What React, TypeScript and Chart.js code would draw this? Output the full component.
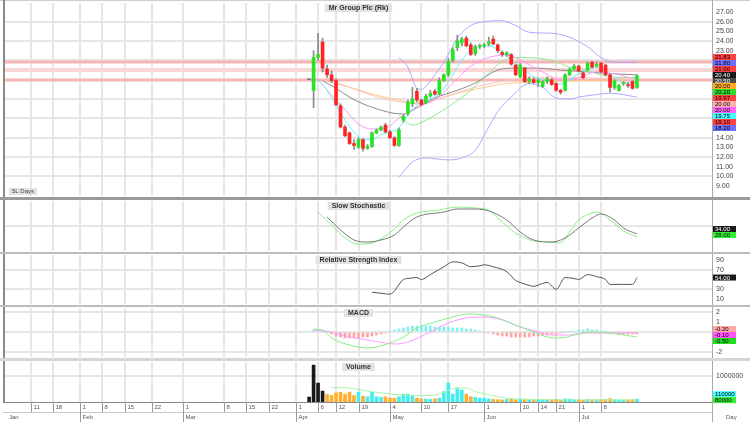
import { useEffect, useRef } from 'react';
import { Chart, registerables } from 'chart.js';

Chart.register(...registerables);

const FONT = '"Liberation Sans", "DejaVu Sans", Arial, sans-serif';
const GRID = '#e6e6e6';
const UP = '#22e622';
const DOWN = '#ff2424';

// ---------- time axis (trading-day slots) ----------
const X_MIN = 0.3;
const X_MAX = 157.7;
const FIRST_SLOT = 68;
const tickSlots = [6, 11, 17, 22, 27, 33, 40, 49, 54, 59, 65, 70, 74, 79, 86, 93, 99, 107, 115, 119, 123, 128, 133];
const tickLabels = ['11', '18', '1', '8', '15', '22', '1', '8', '15', '22', '1', '6', '12', '19', '4', '10', '17', '1', '10', '14', '21', '1', '8'];
const monthTickIdx = [2, 6, 10, 14, 17, 21];
const monthLabels = ['Feb', 'Mar', 'Apr', 'May', 'Jun', 'Jul'];
const firstMonthLabel = 'Jan';

// ---------- price panel ----------
const priceTicks = [9, 10, 11, 12, 13, 14, 15, 16, 17, 18, 19, 20, 21, 22, 23, 24, 25, 26, 27];
const opens = [20.0, 18.9, 22.3, 23.9, 21.1, 20.5, 19.9, 17.3, 15.1, 14.5, 13.4, 13.0, 13.8, 12.9, 13.1, 14.5, 14.8, 15.3, 14.6, 14.0,
  13.2, 15.8, 16.5, 17.5, 18.8, 17.9, 17.6, 18.3, 18.8, 18.5, 19.9, 20.5, 22.0, 23.3, 23.8, 24.3, 23.6, 22.7, 23.4, 23.5,
  23.7, 24.2, 23.6, 22.8, 22.6, 22.6, 21.5, 20.3, 21.2, 19.8, 20.0, 19.7, 19.3, 19.8, 20.0, 19.6, 18.9, 18.9, 20.5, 21.1,
  21.4, 20.7, 21.0, 21.8, 21.4, 21.7, 21.5, 20.5, 19.2, 18.9, 19.6, 19.5, 19.8, 19.2];
const highs = [20.0, 23.0, 24.8, 24.3, 21.5, 20.9, 20.1, 17.5, 15.3, 14.6, 13.8, 14.0, 13.9, 13.3, 14.6, 14.9, 15.2, 15.5, 14.8, 14.1,
  15.0, 16.4, 17.9, 19.2, 19.1, 18.0, 18.5, 18.9, 19.0, 20.2, 20.6, 22.2, 23.3, 24.6, 24.4, 24.5, 23.8, 23.6, 23.7, 23.8,
  24.4, 24.5, 23.7, 23.0, 22.9, 22.7, 21.6, 21.7, 21.3, 20.3, 20.2, 20.1, 19.9, 20.3, 20.1, 19.7, 19.0, 20.6, 21.2, 21.6,
  21.5, 20.8, 21.8, 21.9, 21.8, 21.8, 21.6, 20.6, 20.0, 19.5, 19.8, 19.7, 19.9, 20.5];
const lows = [20.0, 17.1, 22.0, 20.8, 20.2, 19.7, 17.3, 15.0, 14.1, 13.3, 12.8, 12.9, 12.6, 12.8, 13.0, 14.4, 14.7, 14.5, 13.9, 13.1,
  13.1, 15.6, 16.3, 17.2, 17.7, 17.3, 17.5, 18.2, 18.4, 18.4, 19.8, 20.3, 21.8, 23.0, 23.5, 23.4, 22.5, 22.5, 23.2, 23.3,
  23.5, 23.6, 22.8, 22.4, 22.4, 21.5, 20.4, 20.2, 19.7, 19.6, 19.6, 19.3, 19.2, 19.6, 19.4, 18.8, 18.5, 18.8, 20.4, 21.0,
  20.8, 20.1, 20.9, 21.2, 21.3, 20.7, 20.4, 18.7, 19.0, 18.8, 19.4, 19.2, 19.0, 19.1];
const closes = [20.0, 22.3, 22.6, 21.2, 20.5, 19.9, 17.4, 15.1, 14.2, 13.4, 13.2, 13.8, 12.9, 13.1, 14.5, 14.8, 15.1, 14.6, 14.0, 13.2,
  14.8, 16.2, 17.7, 18.0, 17.9, 17.4, 18.3, 18.6, 18.5, 19.9, 20.5, 21.9, 23.1, 24.0, 24.2, 23.5, 22.6, 23.4, 23.5, 23.6,
  23.9, 23.7, 23.0, 22.6, 22.8, 21.6, 20.5, 21.5, 19.8, 20.1, 19.7, 19.9, 19.8, 20.1, 19.5, 18.9, 18.7, 20.5, 21.1, 21.4,
  20.9, 20.2, 21.7, 21.3, 21.6, 20.8, 20.5, 19.2, 19.9, 19.4, 19.7, 19.4, 19.1, 20.4];
const levelLines = [21.83, 21.0, 19.97];
// [trading day, value]
const bbUpper = [[20, 22.3], [22, 21.3], [24, 19.1], [25, 19.0], [26, 19.3], [28, 20.5], [30, 21.8], [31, 22.6], [33, 24.3], [36, 25.6], [39, 26.0], [43, 26.1], [46, 25.6], [49, 24.9], [54, 24.8], [58, 24.4], [62, 23.4], [65, 22.3], [68, 21.8], [73, 21.8]];
const bbLower = [[20, 9.9], [23, 11.5], [26, 11.9], [31, 11.7], [34, 11.9], [37, 12.7], [40, 15.1], [42, 16.7], [45, 18.2], [49, 19.6], [52, 19.2], [55, 18.1], [58, 18.0], [60, 18.2], [63, 18.4], [67, 18.6], [73, 18.2]];
const greenMA = [[20, 16.3], [23, 15.3], [26, 15.8], [31, 17.2], [36, 18.9], [40, 20.7], [43, 21.9], [47, 22.3], [54, 22.0], [58, 21.3], [61, 21.0], [65, 20.5], [67, 20.3], [73, 20.2]];
const grayMA = [[3, 19.9], [6, 19.1], [9, 18.2], [12, 17.5], [15, 17.0], [18, 16.6], [21, 16.45], [24, 17.1], [28, 18.1], [33, 18.9], [37, 19.65], [42, 21.0], [46, 21.2], [50, 21.2], [56, 21.0], [62, 20.8], [68, 20.6], [73, 20.5]];
const orangeMA = [[3, 20.0], [6, 19.6], [10, 19.1], [15, 18.4], [20, 17.9], [24, 17.5], [28, 17.9], [33, 18.6], [38, 19.1], [43, 19.55], [50, 19.75], [60, 19.9], [73, 20.0]];
const salmonMA = [[3, 20.0], [6, 19.7], [12, 18.7], [18, 17.9], [24, 17.6], [30, 18.2], [36, 19.1], [42, 19.75], [50, 20.2], [60, 20.2], [73, 20.0]];
const magentaMA = [[2, 20.0], [5, 18.4], [8, 16.9], [11, 15.4], [14, 14.9], [17, 15.0], [20, 16.0], [24, 17.2], [28, 17.9], [32, 19.65], [36, 21.4], [40, 22.3], [44, 22.55], [48, 21.8], [52, 20.8], [56, 20.0], [60, 20.2], [64, 20.8], [68, 20.6], [73, 20.0]];
const cyanMA = [[2, 20.0], [4, 18.9], [6, 17.4], [8, 15.8], [10, 14.6], [12, 13.8], [14, 13.8], [16, 14.3], [18, 14.6], [20, 15.0], [22, 16.35], [24, 17.4], [26, 17.9], [28, 18.2], [30, 19.1], [32, 20.5], [34, 22.0], [36, 23.1], [38, 23.5], [40, 23.5], [42, 23.1], [44, 22.45], [46, 21.7], [48, 21.0], [50, 20.3], [52, 20.0], [54, 19.75], [56, 19.55], [58, 20.0], [60, 20.6], [62, 21.0], [64, 21.3], [66, 20.8], [68, 20.2], [70, 19.65], [73, 19.75]];

// ---------- slow stochastic ----------
const stochK = [[2, 78], [5, 52], [8, 26], [11, 14], [14, 16], [17, 30], [19, 44], [21, 62], [24, 76], [29, 82], [33, 88], [37, 86], [40, 82], [42, 66], [46, 36], [50, 20], [53, 18], [56, 16], [58, 38], [60, 62], [63, 76], [64, 78], [67, 62], [70, 40], [73, 28]];
const stochD = [[4, 68], [7, 42], [10, 22], [13, 18], [16, 22], [19, 32], [21, 48], [24, 68], [30, 78], [33, 84], [37, 84], [40, 80], [44, 62], [47, 38], [50, 22], [54, 18], [57, 26], [60, 46], [63, 66], [65, 74], [68, 62], [70, 46], [73, 34]];

// ---------- RSI ----------
const rsiTicks = [90, 70, 30, 10];
const rsi = [[14, 24], [16, 22], [18, 20], [21, 50], [22, 52], [24, 54], [25, 50], [27, 60], [30, 76], [32, 86], [34, 84], [36, 76], [38, 78], [39, 80], [41, 76], [44, 66], [46, 48], [47, 44], [49, 38], [50, 36], [52, 42], [53, 44], [55, 30], [57, 54], [59, 52], [60, 50], [62, 60], [64, 56], [66, 50], [67, 40], [70, 40], [72, 40], [73, 54]];

// ---------- MACD ----------
const macdTicks = [2, 1, 0, -1, -2];
const macdLine = [[1, 0.3], [3, 0.2], [5, -0.6], [9, -1.3], [13, -1.6], [15, -1.5], [18, -1.1], [21, -0.5], [24, 0.4], [28, 1.0], [32, 1.5], [35, 1.8], [39, 1.7], [42, 1.4], [46, 0.7], [50, 0.0], [53, -0.5], [56, -0.6], [59, -0.3], [63, 0.0], [67, -0.1], [70, -0.3], [73, -0.5]];
const signalLine = [[1, 0.2], [5, 0.0], [9, -0.5], [13, -0.8], [17, -1.1], [19, -1.2], [22, -1.0], [27, 0.0], [31, 0.9], [35, 1.4], [39, 1.5], [43, 1.2], [47, 0.5], [51, 0.0], [54, -0.3], [58, -0.3], [61, -0.1], [65, -0.1], [69, -0.1], [73, -0.1]];
const macdHist = [0.1, 0.2, 0.2, 0.1, 0,
  -0.2, -0.4, -0.5, -0.6, -0.6, -0.6, -0.6, -0.5, -0.5, -0.4, -0.3, -0.2, -0.1,
  0.1, 0.2, 0.3, 0.4, 0.5, 0.6, 0.6, 0.6, 0.6, 0.6, 0.5, 0.5, 0.5, 0.5, 0.4, 0.4, 0.4, 0.3, 0.3, 0.2, 0.1,
  -0.1, -0.1, -0.2, -0.3, -0.4, -0.4, -0.5, -0.5, -0.5, -0.5, -0.5, -0.4, -0.4, -0.3, -0.3, -0.2, -0.2, -0.1,
  0.0, 0.1, 0.1,
  0.2, 0.2, 0.3, 0.2, 0.2, 0.1, 0.1,
  -0.1, -0.1, -0.2, -0.2, -0.2, -0.2, -0.2];

// ---------- volume ----------
const volTicks = [1000000];
const volumes = [190000, 1420000, 730000, 420000, 300000, 250000, 350000, 380000, 300000, 380000,
  250000, 380000, 220000, 200000, 380000, 200000, 180000, 200000, 150000, 150000,
  200000, 300000, 300000, 250000, 150000, 120000, 120000, 100000, 120000, 150000,
  400000, 730000, 300000, 540000, 460000, 300000, 200000, 180000, 150000, 150000,
  120000, 100000, 90000, 80000, 100000, 110000, 90000, 120000, 100000, 80000,
  70000, 90000, 80000, 70000, 90000, 100000, 80000, 120000, 110000, 90000,
  80000, 70000, 100000, 90000, 80000, 90000, 100000, 130000, 90000, 80000,
  70000, 80000, 90000, 110000];
const volMA = [[5, 550000], [8, 550000], [12, 450000], [16, 350000], [20, 280000], [25, 250000], [29, 300000], [31, 450000], [33, 540000], [35, 540000], [37, 400000], [40, 280000], [44, 150000], [50, 100000], [60, 80000], [73, 80000]];

// ---------- helpers ----------
const slot = (k: number) => FIRST_SLOT + k;
const pts = (pairs: number[][]) => pairs.map(([k, v]) => ({ x: slot(k), y: v }));
const lastOf = (pairs: number[][]) => pairs[pairs.length - 1][1];
const lastK = closes.length - 1;

const line = (pairs: number[][], color: string, order: number, width = 1) => ({
  type: 'line',
  data: pts(pairs),
  borderColor: color,
  borderWidth: width,
  pointRadius: 0,
  fill: false,
  cubicInterpolationMode: 'monotone',
  order,
});

const xAxis = (h = 0) => ({
  type: 'linear',
  min: X_MIN,
  max: X_MAX,
  offset: false,
  afterBuildTicks: (s: any) => { s.ticks = tickSlots.map((v) => ({ value: v })); },
  ticks: { display: false },
  grid: { color: GRID, lineWidth: 2, drawTicks: false, offset: false },
  border: { display: false },
  afterFit: (s: any) => { s.height = h; },
});

const yAxis = (min: number, max: number, ticks: number[], gridVals: number[], fmt: (v: number) => string) => ({
  type: 'linear',
  position: 'right',
  min,
  max,
  afterBuildTicks: (s: any) => { s.ticks = ticks.map((v) => ({ value: v })); },
  ticks: { font: { size: 7, family: FONT }, color: '#444', padding: 4, autoSkip: false, callback: (v: any) => fmt(Number(v)) },
  grid: {
    color: (c: any) => (c.tick && gridVals.includes(c.tick.value) ? GRID : 'rgba(0,0,0,0)'),
    lineWidth: 2,
    drawTicks: false,
  },
  border: { display: false },
  afterFit: (s: any) => { s.width = 38; s.paddingTop = 0; s.paddingBottom = 0; },
});

const baseOptions = (padding: any, scales: any, plugins: any[]) => ({
  responsive: false,
  animation: false,
  events: [],
  layout: { padding, autoPadding: false },
  plugins: { legend: { display: false }, tooltip: { enabled: false } },
  scales,
  _plugins: plugins,
});

const titlePlugin = (text: string) => ({
  id: 'panelTitle',
  afterDraw(chart: any) {
    const { ctx, chartArea } = chart;
    ctx.save();
    ctx.font = `bold 7px ${FONT}`;
    const w = ctx.measureText(text).width + 8;
    const cx = (chartArea.left + chartArea.right) / 2;
    ctx.fillStyle = '#e2e2e2';
    ctx.fillRect(cx - w / 2, chartArea.top + 1, w, 8);
    ctx.fillStyle = '#333';
    ctx.textAlign = 'center';
    ctx.textBaseline = 'middle';
    ctx.fillText(text, cx, chartArea.top + 5.5);
    ctx.restore();
  },
});

type SideItem = { value: number; color: string; text?: string; h?: number };
const sideLabels = (items: SideItem[], centered: boolean, fmt: (v: number) => string) => ({
  id: 'sideLabels',
  afterDraw(chart: any) {
    const { ctx, chartArea, scales } = chart;
    let prevBottom = -Infinity;
    ctx.save();
    ctx.font = `6px ${FONT}`;
    ctx.textBaseline = 'middle';
    for (const it of items) {
      const h = it.h ?? 6;
      const py = scales.y.getPixelForValue(it.value);
      let top = centered ? py - h / 2 : py - h - 2;
      if (top < prevBottom) top = prevBottom;
      ctx.fillStyle = it.color;
      ctx.fillRect(chartArea.right + 1, top, 23, h);
      ctx.fillStyle = it.text ?? '#000';
      ctx.fillText(fmt(it.value), chartArea.right + 3, top + h / 2 + 0.5);
      prevBottom = top + h;
    }
    ctx.restore();
  },
});

const cornerNote = (text: string) => ({
  id: 'cornerNote',
  afterDraw(chart: any) {
    const { ctx, chartArea } = chart;
    ctx.save();
    ctx.font = `6px ${FONT}`;
    const w = ctx.measureText(text).width + 6;
    ctx.fillStyle = '#e2e2e2';
    ctx.fillRect(chartArea.left + 4, chartArea.bottom - 8, w, 7);
    ctx.fillStyle = '#444';
    ctx.textBaseline = 'middle';
    ctx.fillText(text, chartArea.left + 7, chartArea.bottom - 4.3);
    ctx.restore();
  },
});

const dateAxisPlugin = {
  id: 'dateAxis',
  afterDraw(chart: any) {
    const { ctx, chartArea, scales } = chart;
    const xs = scales.x;
    const y0 = chartArea.bottom;
    ctx.save();
    ctx.lineWidth = 1;
    ctx.strokeStyle = '#888';
    ctx.beginPath(); ctx.moveTo(3, y0 + 0.5); ctx.lineTo(chartArea.right, y0 + 0.5); ctx.stroke();
    ctx.strokeStyle = '#c8c8c8';
    ctx.beginPath(); ctx.moveTo(3, y0 + 10.5); ctx.lineTo(chartArea.right, y0 + 10.5); ctx.stroke();
    ctx.font = `6px ${FONT}`;
    ctx.fillStyle = '#555';
    ctx.textBaseline = 'middle';
    tickSlots.forEach((s, i) => {
      const x = Math.round(xs.getPixelForValue(s)) + 0.5;
      ctx.strokeStyle = '#999';
      ctx.beginPath(); ctx.moveTo(x, y0); ctx.lineTo(x, y0 + 10); ctx.stroke();
      ctx.fillText(tickLabels[i], x + 2, y0 + 5.5);
      const m = monthTickIdx.indexOf(i);
      if (m >= 0) {
        ctx.beginPath(); ctx.moveTo(x, y0 + 10); ctx.lineTo(x, y0 + 20); ctx.stroke();
        ctx.fillText(monthLabels[m], x + 2, y0 + 15.5);
      }
    });
    ctx.fillText(firstMonthLabel, 9, y0 + 15.5);
    ctx.fillText('Day', 726, y0 + 15.5);
    ctx.restore();
  },
};

const mk = (type: string, datasets: any[], options: any) => {
  const plugins = options._plugins;
  delete options._plugins;
  return { type, data: { datasets }, options, plugins };
};

// ---------- panel builders ----------
function buildMain() {
  const bodyColors = closes.map((c, k) => (c > opens[k] ? UP : c < opens[k] ? DOWN : '#777'));
  const datasets: any[] = [
    { type: 'bar', data: opens.map((o, k) => ({ x: slot(k), y: [o, closes[k]] })), backgroundColor: bodyColors, barThickness: 3, grouped: false, minBarLength: 1, order: 0 },
    { type: 'bar', data: lows.map((l, k) => ({ x: slot(k), y: [l, highs[k]] })), backgroundColor: '#8a8a8a', barThickness: 1, grouped: false, order: 1 },
    line(cyanMA, '#66f2f2', 2),
    line(magentaMA, '#ff99ff', 3),
    line(greenMA, '#90e890', 4),
    line(grayMA, '#8a8a8a', 5),
    line(salmonMA, '#ffc0c0', 6),
    line(orangeMA, '#ffcc88', 7),
    line(bbUpper, '#aaaaff', 8),
    line(bbLower, '#aaaaff', 9),
    ...levelLines.map((v, i) => ({
      type: 'line',
      data: [{ x: X_MIN, y: v }, { x: X_MAX, y: v }],
      borderColor: i === 1 ? '#fbd6d6' : '#f5b5b5',
      borderWidth: i === 1 ? 4 : 3,
      pointRadius: 0,
      order: 20 + i,
    })),
  ];
  const items: SideItem[] = [
    { value: levelLines[0], color: '#ff4040' },
    { value: lastOf(bbUpper), color: '#6f6fff' },
    { value: levelLines[1], color: '#ff4040' },
    { value: closes[lastK], color: '#1a1a1a', text: '#fff' },
    { value: lastOf(grayMA), color: '#4a4a4a', text: '#fff', h: 5 },
    { value: lastOf(orangeMA), color: '#ffaa22' },
    { value: lastOf(greenMA), color: '#2fdd2f' },
    { value: levelLines[2], color: '#ff4040' },
    { value: lastOf(salmonMA), color: '#ffb0b0' },
    { value: lastOf(magentaMA), color: '#ff66ff' },
    { value: lastOf(cyanMA), color: '#44ffff' },
    { value: lows[lastK], color: '#ff4040' },
    { value: lastOf(bbLower), color: '#6f6fff' },
  ];
  return mk('bar', datasets, baseOptions(
    { left: 5, top: 3, right: 0, bottom: 1 },
    { x: xAxis(), y: yAxis(7.97, 27.93, priceTicks, [10, 12, 14, 16, 18, 20, 22, 24, 26], (v) => v.toFixed(2)) },
    [titlePlugin('Mr Group Plc (Rk)'), cornerNote('5L Days'), sideLabels(items, false, (v) => v.toFixed(2))],
  ));
}

function buildStoch() {
  const datasets = [line(stochK, '#88ee88', 1), line(stochD, '#777777', 0)];
  return mk('line', datasets, baseOptions(
    { left: 5, top: 1, right: 0, bottom: 1 },
    { x: xAxis(), y: yAxis(0, 100, [50], [50], () => '') },
    [titlePlugin('Slow Stochastic'), sideLabels([
      { value: lastOf(stochD), color: '#1a1a1a', text: '#fff' },
      { value: lastOf(stochK), color: '#33ee33' },
    ], false, (v) => v.toFixed(2))],
  ));
}

function buildRsi() {
  const datasets = [line(rsi, '#555555', 0)];
  return mk('line', datasets, baseOptions(
    { left: 5, top: 1, right: 0, bottom: 1 },
    { x: xAxis(), y: yAxis(0, 100, rsiTicks, [70, 30], (v) => String(v)) },
    [titlePlugin('Relative Strength Index'), sideLabels([
      { value: lastOf(rsi), color: '#1a1a1a', text: '#fff' },
    ], true, (v) => v.toFixed(2))],
  ));
}

function buildMacd() {
  const datasets: any[] = [
    line(macdLine, '#88ee88', 0),
    line(signalLine, '#ff99ff', 1),
    { type: 'bar', data: macdHist.map((v, k) => ({ x: slot(k), y: v })), backgroundColor: macdHist.map((v) => (v >= 0 ? '#80efef' : '#ffa4a4')), barThickness: 2, grouped: false, order: 2 },
  ];
  return mk('bar', datasets, baseOptions(
    { left: 5, top: 1, right: 0, bottom: 1 },
    { x: xAxis(), y: yAxis(-2.5, 2.4, macdTicks, [2, 0, -2], (v) => String(v)) },
    [titlePlugin('MACD'), sideLabels([
      { value: macdHist[lastK], color: '#ffa8a8' },
      { value: lastOf(signalLine), color: '#ff55ff' },
      { value: lastOf(macdLine), color: '#22dd22' },
    ], false, (v) => v.toFixed(2))],
  ));
}

function buildVolume() {
  const volColors = volumes.map((_, k) => (k < 4 ? '#1a1a1a' : closes[k] >= opens[k] ? '#44eeee' : '#ffb030'));
  const datasets: any[] = [
    line(volMA, '#aaf5aa', 0),
    { type: 'bar', data: volumes.map((v, k) => ({ x: slot(k), y: v })), backgroundColor: volColors, barThickness: 3, grouped: false, order: 1 },
  ];
  return mk('bar', datasets, baseOptions(
    { left: 5, top: 1, right: 0, bottom: 0 },
    { x: xAxis(20), y: yAxis(0, 1540000, volTicks, [1000000], (v) => String(v)) },
    [titlePlugin('Volume'), dateAxisPlugin, sideLabels([
      { value: volumes[lastK], color: '#44ffff' },
      { value: lastOf(volMA), color: '#33ee33' },
    ], false, (v) => String(Math.round(v)))],
  ));
}

function ChartBox({ top, height, build }: { top: number; height: number; build: () => any }) {
  const ref = useRef<HTMLCanvasElement>(null);
  useEffect(() => {
    const chart = new Chart(ref.current as HTMLCanvasElement, build());
    return () => chart.destroy();
  }, []);
  return (
    <canvas
      ref={ref}
      width={750}
      height={height}
      style={{ position: 'absolute', left: 0, top, width: 750, height, display: 'block' }}
    />
  );
}

const bar = (left: number, top: number, width: number, height: number, bg: string) => (
  <div style={{ position: 'absolute', left, top, width, height, background: bg }} />
);

export default function App() {
  return (
    <div style={{ position: 'absolute', left: 0, top: 0, width: 750, height: 422, background: '#fff', overflow: 'hidden' }}>
      <ChartBox top={0} height={197} build={buildMain} />
      <ChartBox top={200} height={52} build={buildStoch} />
      <ChartBox top={254} height={51} build={buildRsi} />
      <ChartBox top={307} height={51} build={buildMacd} />
      <ChartBox top={361} height={61} build={buildVolume} />
      {bar(0, 0, 750, 1, '#cfcfcf')}
      {bar(3, 0, 2, 403, '#8a8a8a')}
      {bar(712, 0, 1, 422, '#aaaaaa')}
      {bar(0, 197, 750, 3, '#9a9a9a')}
      {bar(0, 252, 750, 2, '#bdbdbd')}
      {bar(0, 305, 750, 2, '#bdbdbd')}
      {bar(0, 358, 750, 3, '#d6d6d6')}
    </div>
  );
}
